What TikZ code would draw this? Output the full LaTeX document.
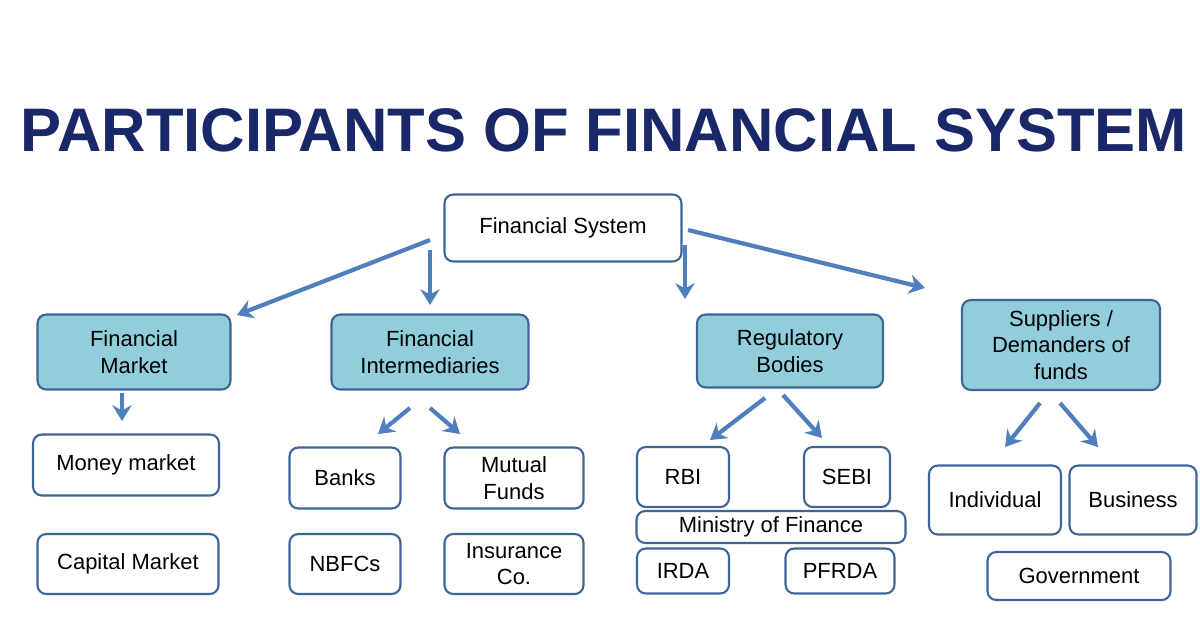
\documentclass[tikz,border=0pt]{standalone}
\usepackage{fontspec}
\setmainfont{Liberation Sans}
\usetikzlibrary{arrows.meta,positioning}
\definecolor{edgeblue}{HTML}{3F6496}
\definecolor{arrowblue}{HTML}{4F7FBD}
\definecolor{headfill}{HTML}{92CDDC}
\definecolor{titleblue}{HTML}{1A2769}
\tikzset{box/.style={draw=edgeblue, line width=1.2pt, rounded corners=5pt, fill=white, align=center, font=\fontsize{12.5}{15}\selectfont, inner sep=0pt},
head/.style={box, fill=headfill},
link/.style={draw=arrowblue, line width=2.4pt, -{Stealth[length=9pt,width=11pt,inset=3pt]}}}

\begin{document}
\begin{tikzpicture}[x=0.02cm, y=-0.02cm]

\useasboundingbox (0,0) rectangle (1200,630);
\node[font=\fontsize{35}{38}\selectfont\bfseries, text=titleblue] (title) at (604,130) {PARTICIPANTS OF FINANCIAL SYSTEM};

\node[box, minimum width=4.74cm, minimum height=1.34cm] (fs) at (563,228) {Financial System};

\node[head, minimum width=3.86cm, minimum height=1.5cm] (fm) at (134,352) {Financial\\Market};
\node[head, minimum width=3.94cm, minimum height=1.5cm] (fi) at (430,352) {Financial\\Intermediaries};
\node[head, minimum width=3.72cm, minimum height=1.46cm] (rb) at (790,351) {Regulatory\\Bodies};
\node[head, minimum width=3.96cm, minimum height=1.8cm] (sd) at (1061,345) {Suppliers /\\Demanders of\\funds};

\node[box, minimum width=3.72cm, minimum height=1.22cm] (money) at (126,465) {Money market};
\node[box, minimum width=3.62cm, minimum height=1.2cm] (capital) at (128,564) {Capital Market};

\node[box, minimum width=2.22cm, minimum height=1.22cm] (banks) at (345,478) {Banks};
\node[box, minimum width=2.78cm, minimum height=1.22cm] (mutual) at (514,478) {Mutual\\Funds};
\node[box, minimum width=2.22cm, minimum height=1.2cm] (nbfc) at (345,564) {NBFCs};
\node[box, minimum width=2.78cm, minimum height=1.2cm] (insur) at (514,564) {Insurance\\Co.};

\node[box, minimum width=1.84cm, minimum height=1.2cm] (rbi) at (683,477) {RBI};
\node[box, minimum width=1.72cm, minimum height=1.2cm] (sebi) at (847,477) {SEBI};
\node[box, minimum width=5.38cm, minimum height=0.64cm] (mof) at (771,527) {Ministry of Finance};
\node[box, minimum width=1.84cm, minimum height=0.9cm] (irda) at (683,571) {IRDA};
\node[box, minimum width=2.18cm, minimum height=0.9cm] (pfrda) at (840,571) {PFRDA};

\node[box, minimum width=2.64cm, minimum height=1.38cm] (indiv) at (995,500) {Individual};
\node[box, minimum width=2.54cm, minimum height=1.38cm] (busi) at (1133,500) {Business};
\node[box, minimum width=3.66cm, minimum height=0.96cm] (govt) at (1079,576) {Government};

% free-floating arrows
\foreach \n/\sx/\sy/\ex/\ey in {a/430/240/237/315, b/430/250/430/305, c/685/245/685/299, d/688/230/925/288,
  e/122/393/122/421, f/410/408/378/434, g/430/408/460/434, h/765/398/710/440, i/783/395/822/438,
  j/1040/403/1005/447, k/1060/403/1098/447}{
  \coordinate (\n0) at (\sx,\sy);
  \coordinate (\n1) at (\ex,\ey);
  \draw[link] (\n0) -- (\n1);
}

\end{tikzpicture}
\end{document}
